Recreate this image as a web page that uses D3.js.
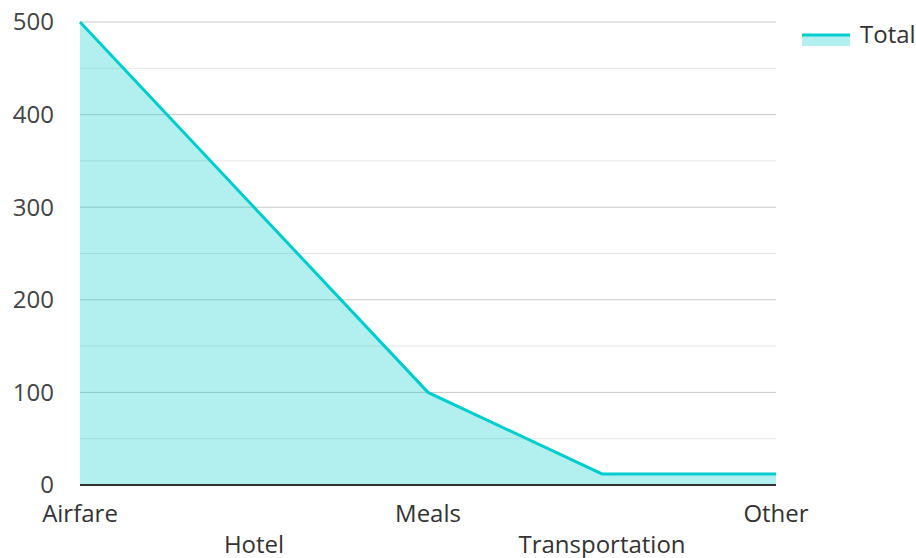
<!DOCTYPE html>
<html>
<head>
<meta charset="utf-8">
<script src="https://cdn.jsdelivr.net/npm/d3@7"></script>
<style>
  body { margin: 0; background: #fff; }
  text { font-family: "Open Sans", sans-serif; }
</style>
</head>
<body>
<div id="chart"></div>
<script>
// data
const categories = ["Airfare", "Hotel", "Meals", "Transportation", "Other"];
const totals = [500, 300, 100, 12, 12];
const yTicks = [0, 100, 200, 300, 400, 500];
const seriesName = "Total";

const W = 916, H = 558;
const margin = {top: 22, right: 140, bottom: 73, left: 80};
const width = W - margin.left - margin.right,
      height = H - margin.top - margin.bottom;

const svg = d3.select("#chart").append("svg")
    .attr("width", W)
    .attr("height", H);

const g = svg.append("g")
    .attr("transform", "translate(" + margin.left + "," + margin.top + ")");

const x = d3.scalePoint().domain(categories).range([0, width]);
const y = d3.scaleLinear().domain([0, 500]).range([height, 0]);

// gridlines, minor every 50 and major every 100
const minor = d3.range(50, 500, 100);
g.selectAll(".minor")
    .data(minor)
    .enter().append("line")
    .attr("x1", 0).attr("x2", width)
    .attr("y1", d => y(d)).attr("y2", d => y(d))
    .style("stroke", "#e6e6e6")
    .style("stroke-width", 1);

g.selectAll(".major")
    .data(yTicks.filter(d => d > 0))
    .enter().append("line")
    .attr("x1", 0).attr("x2", width)
    .attr("y1", d => y(d)).attr("y2", d => y(d))
    .style("stroke", "#c8c8c8")
    .style("stroke-width", 1);

// area + line
const area = d3.area()
    .x((d, i) => x(categories[i]))
    .y0(y(0))
    .y1(d => y(d));

const line = d3.line()
    .x((d, i) => x(categories[i]))
    .y(d => y(d));

g.append("path")
    .datum(totals)
    .attr("d", area)
    .style("fill", "#00cece")
    .style("fill-opacity", 0.3);

g.append("path")
    .datum(totals)
    .attr("d", line)
    .style("fill", "none")
    .style("stroke", "#00cece")
    .style("stroke-width", 3);

// x axis line
g.append("line")
    .attr("x1", 0).attr("x2", width)
    .attr("y1", y(0)).attr("y2", y(0))
    .style("stroke", "#333")
    .style("stroke-width", 2);

// y labels
g.selectAll(".ylab")
    .data(yTicks)
    .enter().append("text")
    .attr("x", -26)
    .attr("y", d => y(d))
    .attr("dy", "0.35em")
    .style("text-anchor", "end")
    .style("font-size", "24px")
    .style("fill", "#444")
    .text(d => d);

// x labels, staggered
g.selectAll(".xlab")
    .data(categories)
    .enter().append("text")
    .attr("x", d => x(d))
    .attr("y", (d, i) => height + (i % 2 ? 68 : 37))
    .style("text-anchor", "middle")
    .style("font-size", "24px")
    .style("fill", "#333")
    .text(d => d);

// legend
const lg = svg.append("g").attr("transform", "translate(802,35)");
lg.append("rect")
    .attr("x", 0).attr("y", 0)
    .attr("width", 48).attr("height", 11)
    .style("fill", "#00cece")
    .style("fill-opacity", 0.3);
lg.append("line")
    .attr("x1", 0).attr("x2", 48)
    .attr("y1", 0).attr("y2", 0)
    .style("stroke", "#00cece")
    .style("stroke-width", 3);
lg.append("text")
    .attr("x", 58).attr("y", 0)
    .attr("dy", "0.35em")
    .style("font-size", "24px")
    .style("fill", "#333")
    .text(seriesName);
</script>
</body>
</html>
